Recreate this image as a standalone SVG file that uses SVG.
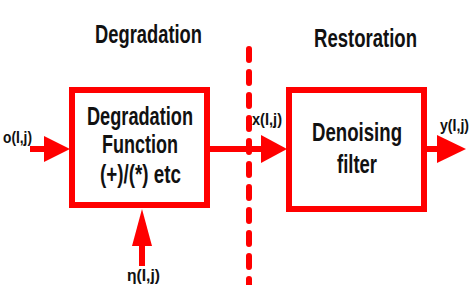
<svg xmlns="http://www.w3.org/2000/svg" width="474" height="285" viewBox="0 0 474 285">
<style>
text{font-family:"Liberation Sans",Arial,sans-serif;font-weight:bold;fill:#111;}
.title{font-size:26px;}
.box{fill:#fff;stroke:#f00;stroke-width:6;}
.lbl{font-size:17px;}
.wire{stroke:#f00;stroke-width:6;fill:none;}
.head{fill:#f00;}
</style>
<rect width="474" height="285" fill="#fff"/>
<text class="title" x="95" y="43" textLength="107" lengthAdjust="spacingAndGlyphs">Degradation</text>
<text class="title" x="314" y="47" textLength="103" lengthAdjust="spacingAndGlyphs">Restoration</text>
<line x1="249" y1="49" x2="249" y2="285" stroke="#f00" stroke-width="6" stroke-linecap="round" stroke-dasharray="11 12"/>
<g id="connectors">
<line class="wire" x1="30" y1="149" x2="50" y2="149"/>
<polygon class="head" points="44,136 70,149 44,162"/>
<line class="wire" x1="207" y1="149" x2="265" y2="149"/>
<polygon class="head" points="261,135 287,149 261,163"/>
<line class="wire" x1="424" y1="149" x2="440" y2="149"/>
<polygon class="head" points="437,135 466,149 437,163"/>
<line class="wire" x1="142" y1="266" x2="142" y2="240"/>
<polygon class="head" points="132,246 142,209 152,246"/>
</g>
<g id="degradation">
<rect class="box" x="72" y="90" width="135" height="115"/>
<text x="87" y="125" font-size="25" textLength="106" lengthAdjust="spacingAndGlyphs">Degradation</text>
<text x="102" y="153" font-size="25" textLength="76" lengthAdjust="spacingAndGlyphs">Function</text>
<text x="100" y="183" font-size="25" textLength="81" lengthAdjust="spacingAndGlyphs">(+)/(*) etc</text>
</g>
<g id="denoising">
<rect class="box" x="289" y="90" width="135" height="119"/>
<text x="312" y="141" font-size="26" textLength="90" lengthAdjust="spacingAndGlyphs">Denoising</text>
<text x="337" y="173" font-size="26" textLength="40" lengthAdjust="spacingAndGlyphs">filter</text>
</g>
<g id="labels">
<text class="lbl" x="3" y="143" textLength="29" lengthAdjust="spacingAndGlyphs">o(I,j)</text>
<text class="lbl" x="252" y="125" textLength="30" lengthAdjust="spacingAndGlyphs">x(I,j)</text>
<text class="lbl" x="440" y="131" textLength="29" lengthAdjust="spacingAndGlyphs">y(I,j)</text>
<text class="lbl" x="127" y="281" font-size="18" textLength="33" lengthAdjust="spacingAndGlyphs">η(I,j)</text>
</g>
</svg>
